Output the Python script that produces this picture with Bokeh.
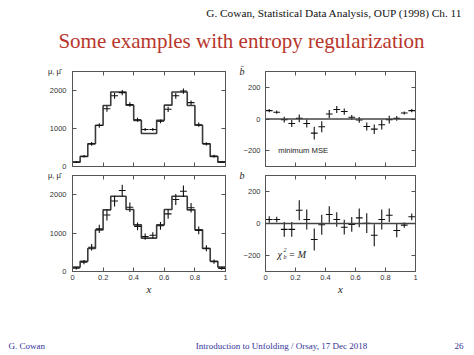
import numpy as np
from bokeh.plotting import figure
from bokeh.models import Range1d, FixedTicker, LinearAxis, Label, Span
from bokeh.layouts import column, row
from bokeh.embed import file_html
from bokeh.resources import INLINE

# ---------------- data ----------------
x_edges = [0.00, 0.05, 0.10, 0.15, 0.20, 0.25, 0.30, 0.35, 0.40, 0.45, 0.50,
           0.55, 0.60, 0.65, 0.70, 0.75, 0.80, 0.85, 0.90, 0.95, 1.00]
x_ticks = [0, 0.2, 0.4, 0.6, 0.8, 1]
x_tick_labels = ["0", "0.2", "0.4", "0.6", "0.8", "1"]
mu_ticks = [0, 1000, 2000]
b_ticks = [-200, 0, 200]

# true histogram mu
mu_true = [115, 265, 600, 1085, 1605, 1960, 1960, 1615, 1215, 870,
           870, 1215, 1615, 1960, 1960, 1605, 1085, 600, 265, 115]

# estimates, minimum MSE
mu_hat_mse = [120, 270, 595, 1080, 1520, 1860, 1945, 1630, 1230, 975,
              975, 1190, 1505, 1860, 1985, 1680, 1100, 595, 272, 122]
mu_err_mse = [25, 35, 50, 60, 80, 75, 70, 60, 50, 40,
              40, 50, 70, 75, 70, 60, 55, 45, 35, 25]
b_mse = [53, 43, -4, -28, 4, -28, -89, -49, 32, 60,
         47, 11, -6, -47, -64, -36, -4, 4, 38, 53]
b_err_mse = [10, 10, 18, 22, 25, 25, 40, 35, 25, 22,
             20, 15, 18, 25, 30, 30, 25, 15, 10, 10]

# estimates, chi2_b = M
mu_hat_chi2 = [85, 245, 630, 1110, 1470, 1835, 2110, 1675, 1175, 910,
               945, 1190, 1500, 1875, 2090, 1660, 1070, 605, 255, 80]
mu_err_chi2 = [35, 55, 85, 110, 140, 140, 150, 125, 100, 80,
               80, 100, 125, 140, 150, 125, 100, 80, 55, 35]
b_chi2 = [25, 25, -37, -37, 83, 25, -100, -8, 56, 25,
          -23, -6, 35, 2, -73, 25, 52, -44, -10, 42]
b_err_chi2 = [21, 17, 46, 46, 62, 62, 69, 62, 52, 46,
              46, 46, 58, 62, 69, 62, 42, 42, 17, 21]

SANS = "Liberation Sans"
SERIF = "Liberation Serif"
FRAME = "#555555"

lo = np.array(x_edges[:-1])
hi = np.array(x_edges[1:])
ctr = (lo + hi) / 2
half = 0.45 * (hi - lo)


def style_axis(ax, labels):
    ax.axis_line_color = FRAME
    ax.major_tick_line_color = FRAME
    ax.major_tick_in = 4
    ax.major_tick_out = 0
    ax.minor_tick_line_color = None
    if labels:
        ax.major_label_text_font = SANS
        ax.major_label_text_font_size = "7.5px"
        ax.major_label_text_color = "#333333"
    else:
        ax.major_label_text_font_size = "1px"
        ax.major_label_text_color = None
        ax.major_label_standoff = 0


def panel(width, height, bl, br, bt, bb, yr, yticks, show_x, ylab, ylab_font,
          ylab_size, ylab_style, ystand, lab_stand):
    p = figure(width=width, height=height, x_range=Range1d(0, 1),
               y_range=Range1d(*yr), output_backend="svg",
               toolbar_location=None, x_axis_type=None, y_axis_type=None,
               min_border_left=bl, min_border_right=br,
               min_border_top=bt, min_border_bottom=bb)
    p.outline_line_color = FRAME
    p.background_fill_color = "white"
    p.border_fill_color = "white"
    left = LinearAxis(ticker=FixedTicker(ticks=yticks))
    style_axis(left, True)
    left.major_label_standoff = ystand
    left.axis_label = ylab
    left.axis_label_text_font = ylab_font
    left.axis_label_text_font_size = ylab_size
    left.axis_label_text_font_style = ylab_style
    left.axis_label_text_color = "#222222"
    left.axis_label_standoff = lab_stand
    left.axis_label_orientation = "horizontal"
    left.axis_label_align = "end"
    p.add_layout(left, "left")
    right = LinearAxis(ticker=FixedTicker(ticks=yticks))
    style_axis(right, False)
    p.add_layout(right, "right")
    below = LinearAxis(ticker=FixedTicker(ticks=x_ticks))
    style_axis(below, show_x)
    if show_x:
        below.major_label_overrides = {t: l for t, l in zip(x_ticks, x_tick_labels)}
        below.major_label_standoff = 3
        below.axis_label = "x"
        below.axis_label_text_font = SERIF
        below.axis_label_text_font_style = "italic"
        below.axis_label_text_font_size = "11px"
        below.axis_label_standoff = 0
        below.axis_label_text_color = "#222222"
    p.add_layout(below, "below")
    above = LinearAxis(ticker=FixedTicker(ticks=x_ticks))
    style_axis(above, False)
    p.add_layout(above, "above")
    return p


def crosses(p, vals, errs):
    v = np.array(vals, dtype=float)
    e = np.array(errs, dtype=float)
    p.segment(x0=ctr - half, x1=ctr + half, y0=v, y1=v,
              line_color="#111111", line_width=1.1)
    p.segment(x0=ctr, x1=ctr, y0=v - e, y1=v + e,
              line_color="#111111", line_width=1.1)


def mu_panel(height, bt, bb, show_x, est, err):
    p = panel(236, height, 72, 11, bt, bb, (0, 2500), mu_ticks, show_x,
              "μ, μ̂", SANS, "7.5px", "normal", 6, -14)
    p.step(x=x_edges, y=mu_true + [mu_true[-1]], mode="after",
           line_color="#3a3a3a", line_width=1.6)
    crosses(p, est, err)
    return p


def b_panel(height, bt, bb, show_x, est, err):
    p = panel(238, height, 26, 59, bt, bb, (-300, 300), b_ticks, show_x,
              "b̂", SERIF, "10px", "italic", 5, -4)
    p.add_layout(Span(location=0, dimension="width", line_color="#444444",
                      line_width=1.5))
    crosses(p, est, err)
    return p


# ---------------- header ----------------
W = 474
hdr = figure(width=W, height=66, x_range=Range1d(0, W), y_range=Range1d(66, 0),
             output_backend="svg", toolbar_location=None, x_axis_type=None,
             y_axis_type=None, min_border=0)
hdr.outline_line_color = None
hdr.add_layout(Label(x=462, y=12, text="G. Cowan, Statistical Data Analysis, OUP (1998) Ch. 11",
                     text_font=SERIF, text_font_size="11.3px", text_color="#111111",
                     text_align="right", text_baseline="middle"))
hdr.add_layout(Label(x=241, y=40, text="Some examples with entropy regularization",
                     text_font=SERIF, text_font_size="21px", text_color="#b8362b",
                     text_align="center", text_baseline="middle"))

# ---------------- panels ----------------
tl = mu_panel(105, 5, 5, False, mu_hat_mse, mu_err_mse)
tr = b_panel(105, 5, 5, False, b_mse, b_err_mse)
tr.add_layout(Label(x=0.085, y=-200, text="minimum MSE", text_font=SANS,
                    text_font_size="7.7px", text_color="#222222",
                    text_align="left", text_baseline="middle"))

bl_ = mu_panel(129, 4, 29, True, mu_hat_chi2, mu_err_chi2)
br_ = b_panel(129, 4, 29, True, b_chi2, b_err_chi2)
for txt, dx, dy, fs in [("χ", 0, 0, "10px"), ("2", 6, 4, "6px"), ("b", 6, -3, "6px"),
                        ("= M", 11, 0, "10px")]:
    br_.add_layout(Label(x=0.08, y=-192, x_offset=dx, y_offset=dy, text=txt,
                         text_font=SERIF, text_font_style="italic",
                         text_font_size=fs, text_color="#222222",
                         text_align="left", text_baseline="middle"))

# ---------------- footer ----------------
ftr = figure(width=W, height=55, x_range=Range1d(0, W), y_range=Range1d(55, 0),
             output_backend="svg", toolbar_location=None, x_axis_type=None,
             y_axis_type=None, min_border=0)
ftr.outline_line_color = None
FOOT = "#333399"
ftr.add_layout(Label(x=8, y=45, text="G. Cowan", text_font=SERIF,
                     text_font_size="9px", text_color=FOOT,
                     text_align="left", text_baseline="middle"))
ftr.add_layout(Label(x=281, y=45, text="Introduction to Unfolding / Orsay, 17 Dec 2018",
                     text_font=SERIF, text_font_size="9px", text_color=FOOT,
                     text_align="center", text_baseline="middle"))
ftr.add_layout(Label(x=463, y=45, text="26", text_font=SERIF,
                     text_font_size="9px", text_color=FOOT,
                     text_align="right", text_baseline="middle"))

layout = column(hdr, row(tl, tr, spacing=0), row(bl_, br_, spacing=0), ftr, spacing=0)

open("out.html", "w").write(file_html(layout, INLINE))
